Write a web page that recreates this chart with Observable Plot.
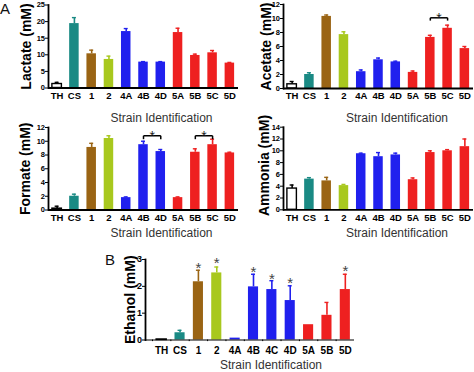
<!DOCTYPE html>
<html>
<head>
<meta charset="utf-8">
<script src="https://cdn.jsdelivr.net/npm/d3@7"></script>
<script src="https://cdn.jsdelivr.net/npm/@observablehq/plot@0.6"></script>
<style>
  html, body { margin: 0; padding: 0; background: white; }
  #fig { position: relative; width: 474px; height: 372px; overflow: hidden; font-family: "Liberation Sans", Arial, sans-serif; }
  #fig > svg { position: absolute; overflow: visible; }
  #fig svg, #fig svg text { font-family: "Liberation Sans", Arial, sans-serif !important; }
  .panel-letter { position: absolute; font-size: 15px; color: #111; line-height: 1; }
</style>
</head>
<body>
<div id="fig">
  <div class="panel-letter" style="left:0px; top:1px;">A</div>
  <div class="panel-letter" style="left:105px; top:252px;">B</div>
</div>
<script>
// ---- data ----
const catsA = ["TH","CS","1","2","4A","4B","4D","5A","5B","5C","5D"];
const catsB = ["TH","CS","1","2","4A","4B","4C","4D","5A","5B","5D"];

const lactate    = [1.2, 19.4, 10.3, 8.6, 17.0, 7.8, 7.8, 16.7, 9.8, 10.6, 7.5];
const lactateErr = [0.5, 1.8, 1.1, 1.0, 0.9, 0.15, 0.15, 1.3, 0.4, 0.7, 0.2];
const lactateTicks = [0, 5, 10, 15, 20, 25];

const acetate    = [0.6, 2.0, 10.3, 7.7, 2.4, 4.1, 3.8, 2.3, 7.3, 8.6, 5.7];
const acetateErr = [0.4, 0.25, 0.2, 0.4, 0.25, 0.25, 0.1, 0.2, 0.3, 0.45, 0.3];
const acetateTicks = [0, 2, 4, 6, 8, 10, 12];
const acetateBrackets = [{a: "5B", b: "5C", y: 10.1, foot: 9.7, star: 10.6}];

const formate    = [0.2, 2.0, 9.1, 10.4, 1.8, 9.5, 8.5, 1.8, 8.4, 9.5, 8.3];
const formateErr = [0.35, 0.3, 0.6, 0.4, 0.1, 0.5, 0.3, 0.1, 0.5, 0.8, 0.1];
const formateTicks = [0, 2, 4, 6, 8, 10, 12];
const formateBrackets = [
  {a: "4B", b: "4D", y: 10.8, foot: 10.3, star: 11.3},
  {a: "5B", b: "5C", y: 10.8, foot: 10.3, star: 11.3}
];

const ammonia    = [3.6, 5.2, 4.9, 4.1, 9.5, 9.0, 9.3, 5.1, 9.7, 10.0, 10.7];
const ammoniaErr = [0.6, 0.25, 0.6, 0.2, 0.1, 0.7, 0.3, 0.3, 0.3, 0.2, 1.3];
const ammoniaTicks = [0, 2, 4, 6, 8, 10, 12, 14];

const ethanol    = [0.02, 0.27, 2.17, 2.5, 0.07, 1.98, 1.88, 1.47, 0.57, 0.92, 1.88];
const ethanolErr = [0, 0.09, 0.43, 0.22, 0, 0.47, 0.33, 0.55, 0, 0.48, 0.57];
const ethanolTicks = [0, 1, 2, 3];
const ethanolStarCats = ["1", "2", "4B", "4C", "4D", "5D"];
const ethanolStarY    = [2.84, 3.03, 2.69, 2.4, 2.25, 2.72];

const xTitle = "Strain Identification";

// ---- colours ----
const TEAL = "#1a8a84", BROWN = "#9a6414", LIME = "#a8c81e", BLUE = "#2020ee", RED = "#ee2020";
function colorOf(c) {
  if (c === "TH") return "black";
  if (c === "CS") return TEAL;
  if (c === "1") return BROWN;
  if (c === "2") return LIME;
  if (c.startsWith("4")) return BLUE;
  return RED;
}

const PAD = 0.45;
function panel(cfg) {
  const data = cfg.cats.map((c, i) => ({cat: c, v: cfg.vals[i], e: cfg.errs[i], col: colorOf(c)}));
  const insL = cfg.insetL || 0, insR = cfg.insetR || 0;
  const step = (cfg.width - cfg.mL - cfg.mR - insL - insR) / cfg.cats.length;
  const bw = step * (1 - PAD);
  const capInset = Math.max(0, bw / 2 - 2);
  const fontTick = cfg.fontTick || 9.5;
  const marks = [
    Plot.barY(data.filter(d => d.cat !== "TH"), {x: "cat", y: "v", fill: "col"}),
    Plot.barY(data.filter(d => d.cat === "TH"), {x: "cat", y: "v", fill: "white", stroke: "black", strokeWidth: 1.4}),
    Plot.ruleX(data.filter(d => d.e > 0), {x: "cat", y1: "v", y2: d => d.v + d.e, stroke: "col", strokeWidth: 1.6}),
    Plot.tickY(data.filter(d => d.e > 0), {x: "cat", y: d => d.v + d.e, stroke: "col", strokeWidth: 1.4, insetLeft: capInset, insetRight: capInset}),
    Plot.ruleY([0], {stroke: "black", strokeWidth: cfg.xAxisWidth || 1.8}),
    Plot.frame({anchor: "left", stroke: "black", strokeWidth: 1.8}),
    Plot.axisY({ticks: cfg.yticks, tickSize: 3, tickPadding: 0.5, fontSize: cfg.fontY || 7.5, fontWeight: "bold", label: null, anchor: "left", tickFormat: d => String(d)}),
    Plot.axisX({tickSize: 0, tickPadding: cfg.xPad || 4, fontSize: fontTick, fontWeight: "bold", label: null, anchor: "bottom"}),
    Plot.text([cfg.ylabel], {frameAnchor: "left", textAnchor: "middle", lineAnchor: "middle", rotate: -90, dx: cfg.ylabDx, dy: cfg.ylabDy || 0, fontSize: 14, fontWeight: "bold", fill: "black"}),
    Plot.text([xTitle], {frameAnchor: "bottom", textAnchor: "middle", lineAnchor: "middle", dx: cfg.xlabDx, dy: cfg.xlabDy, fontSize: 12, fill: "#333"})
  ];
  if (cfg.brackets) {
    marks.push(
      Plot.link(cfg.brackets, {x1: "a", x2: "b", y1: "y", y2: "y", stroke: "black", strokeWidth: 1.5}),
      Plot.link(cfg.brackets, {x1: "a", x2: "a", y1: "y", y2: "foot", stroke: "black", strokeWidth: 1.5}),
      Plot.link(cfg.brackets, {x1: "b", x2: "b", y1: "y", y2: "foot", stroke: "black", strokeWidth: 1.5}),
      Plot.text(cfg.brackets, {x: "a", y: "star", text: d => "*", dx: step / 2, dy: 4, fontSize: 14, fill: "#222"})
    );
  }
  if (cfg.stars) {
    marks.push(Plot.text(cfg.stars, {x: "cat", y: "y", text: d => "*", dy: 4, fontSize: 15, fill: "#444"}));
  }
  if (cfg.xticks) {
    marks.push(Plot.ruleX(cfg.cats, {x: d => d, dx: -step / 2, y1: 0, y2: -0.06, stroke: "black", strokeWidth: 1}));
  }
  const svg = Plot.plot({
    width: cfg.width, height: cfg.height,
    marginLeft: cfg.mL, marginRight: cfg.mR, marginTop: cfg.mT, marginBottom: cfg.mB,
    x: {type: "band", domain: cfg.cats, paddingInner: PAD, paddingOuter: PAD / 2, round: false, insetLeft: insL, insetRight: insR},
    y: {domain: [0, cfg.ymax]},
    color: {type: "identity"},
    style: {background: "transparent", fontFamily: "Arial, sans-serif", overflow: "visible", color: "black"},
    marks
  });
  svg.style.left = cfg.left + "px";
  svg.style.top = cfg.top + "px";
  document.getElementById("fig").appendChild(svg);
  return svg;
}

panel({cats: catsA, vals: lactate, errs: lactateErr, yticks: lactateTicks, ymax: 25, ylabel: "Lactate (mM)",
  left: 0, top: 0, width: 240, height: 120, mL: 48, mR: 2, mT: 4.5, mB: 32.5,
  ylabDx: -22, xlabDx: 18, xlabDy: 30.5});
panel({cats: catsA, vals: acetate, errs: acetateErr, yticks: acetateTicks, ymax: 12, ylabel: "Acetate (mM)",
  left: 235, top: 0, width: 239, height: 120, mL: 48, mR: 1, mT: 4, mB: 32,
  ylabDx: -16.5, xlabDx: 18.5, xlabDy: 30, brackets: acetateBrackets});
panel({cats: catsA, vals: formate, errs: formateErr, yticks: formateTicks, ymax: 12, ylabel: "Formate (mM)",
  left: 0, top: 120, width: 240, height: 120, mL: 48, mR: 2, mT: 7, mB: 30.5,
  ylabDx: -22.5, xlabDx: 18, xlabDy: 23.5, brackets: formateBrackets});
panel({cats: catsA, vals: ammonia, errs: ammoniaErr, yticks: ammoniaTicks, ymax: 14, ylabel: "Ammonia (mM)",
  left: 235, top: 120, width: 239, height: 120, mL: 48, mR: 1, mT: 6.7, mB: 30.7,
  ylabDx: -18.5, ylabDy: -3, xlabDx: 18.5, xlabDy: 23.5});
panel({cats: catsB, vals: ethanol, errs: ethanolErr, yticks: ethanolTicks, ymax: 3, ylabel: "Ethanol (mM)",
  left: 90, top: 245, width: 270, height: 127, mL: 55, mR: 6, mT: 14, mB: 32.5, insetL: 7,
  ylabDx: -15, xlabDx: 21, xlabDy: 25.5, fontTick: 10, fontY: 9, xPad: 7, xAxisWidth: 1.2, xticks: true,
  stars: ethanolStarCats.map((c, i) => ({cat: c, y: ethanolStarY[i]}))});
</script>
</body>
</html>
